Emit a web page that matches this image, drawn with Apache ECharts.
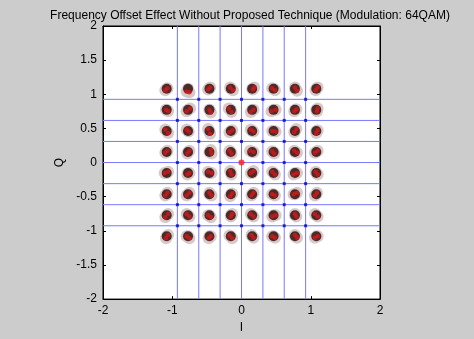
<!DOCTYPE html>
<html>
<head>
<meta charset="utf-8">
<script src="https://cdn.jsdelivr.net/npm/echarts@6/dist/echarts.min.js"></script>
<style>
html,body{margin:0;padding:0;background:#cccccc;}
#chart{width:474px;height:339px;}
</style>
</head>
<body>
<div id="chart"></div>
<script>
// ---- data ----
const titleText = 'Frequency Offset Effect Without Proposed Technique (Modulation: 64QAM)';
const iLevels = [-1.08, -0.772, -0.463, -0.154, 0.154, 0.463, 0.772, 1.08];
const qLevels = [1.08, 0.772, 0.463, 0.154, -0.154, -0.463, -0.772, -1.08];
const boundaries = [-0.926, -0.617, -0.309, 0, 0.309, 0.617, 0.926];
const centerPoint = [0, 0];
// red sample offsets per cluster (row by row, top to bottom; left to right): [dI1,dQ1,dI2,dQ2]
const redOffsets = [
  [-0.02,-0.02, 0.01,0.01],  [0.02,-0.05, -0.02,-0.04], [0.01,0.02, -0.02,-0.01], [0.03,-0.02, -0.01,0.02],
  [0.01,-0.01, 0.03,0.02],   [0.02,-0.02, -0.02,0.01],  [0.03,-0.03, 0.0,0.02],   [0.02,0.02, -0.01,-0.02],
  [-0.01,0.0, 0.02,-0.02],   [0.03,0.02, -0.02,-0.02],  [0.02,-0.04, 0.0,0.0],    [0.01,-0.03, -0.03,0.02],
  [-0.02,-0.03, 0.02,0.0],   [0.03,0.0, -0.03,-0.02],   [0.02,0.01, -0.01,-0.02], [0.01,-0.02, 0.02,0.02],
  [-0.02,0.02, 0.02,-0.03],  [0.01,-0.01, -0.02,0.02],  [-0.02,0.03, 0.01,-0.04], [0.02,0.01, -0.02,-0.02],
  [0.02,-0.01, -0.02,0.02],  [0.03,-0.01, -0.02,0.0],   [0.02,0.03, -0.01,-0.02], [0.02,0.01, 0.0,-0.03],
  [-0.02,-0.01, 0.01,0.02],  [0.02,0.02, -0.01,-0.02],  [0.02,0.03, 0.03,-0.02],  [0.01,-0.02, -0.02,0.02],
  [-0.03,0.02, 0.02,0.0],    [0.01,-0.02, -0.02,0.01],  [0.03,-0.01, -0.01,0.02], [0.02,0.02, -0.02,-0.01],
  [-0.03,0.0, 0.02,0.02],    [-0.01,-0.02, 0.02,0.0],   [0.03,0.0, -0.02,0.02],   [0.01,-0.02, -0.01,0.03],
  [-0.02,0.0, 0.02,0.03],    [0.02,-0.02, -0.02,0.02],  [0.03,0.0, -0.02,-0.02],  [0.02,-0.02, -0.01,0.02],
  [-0.02,-0.02, 0.01,0.02],  [0.02,0.02, -0.02,-0.02],  [0.0,0.02, 0.03,-0.02],   [0.02,0.01, -0.01,-0.03],
  [-0.01,-0.02, 0.02,0.02],  [0.02,-0.02, -0.02,0.0],   [0.03,0.02, -0.02,0.0],   [0.01,0.02, -0.02,-0.02],
  [-0.02,-0.03, 0.02,0.02],  [0.02,-0.02, -0.02,0.02],  [0.02,-0.03, -0.02,0.0],  [0.0,-0.02, 0.02,0.02],
  [0.02,-0.02, -0.02,0.02],  [0.03,0.0, -0.02,-0.02],   [0.02,-0.02, 0.0,0.02],   [-0.02,0.02, 0.02,-0.02],
  [-0.01,-0.03, 0.02,0.02],  [0.02,-0.03, -0.02,0.0],   [0.02,0.0, -0.01,-0.03],  [0.02,-0.03, -0.02,0.01],
  [0.02,-0.02, -0.01,0.02],  [0.02,-0.02, -0.02,0.0],   [0.03,-0.02, 0.0,0.02],   [0.02,0.0, -0.02,-0.02]
];

// ---- build ----
const centers = [], reds = [], halos = [];
qLevels.forEach((q, r) => {
  iLevels.forEach((i, c) => {
    const o = redOffsets[r * 8 + c];
    centers.push([i, q]);
    reds.push([i + o[0], q + o[1]]);
    reds.push([i + o[2], q + o[3]]);
    halos.push([i, q], [i + o[0], q + o[1]], [i + o[2], q + o[3]]);
  });
});
const gridDots = [];
boundaries.forEach(x => boundaries.forEach(y => {
  if (!(x === 0 && y === 0)) gridDots.push([x, y]);
}));
const lineSeries = [];
boundaries.forEach(b => {
  lineSeries.push({type:'line', data:[[b,-2],[b,2]], symbol:'none', silent:true,
    lineStyle:{color:'#7878ff', width:1}, z:2});
  lineSeries.push({type:'line', data:[[-2,b],[2,b]], symbol:'none', silent:true,
    lineStyle:{color:'#7878ff', width:1}, z:2});
});

const FONT = 'Liberation Sans';
const chart = echarts.init(document.getElementById('chart'), null, {renderer:'canvas'});
function mkAxis(position, interval, showLabel, extra) {
  return Object.assign({
    type:'value', min:-2, max:2, interval:interval, position:position,
    axisLine:{show:true, onZero:false, lineStyle:{color:'#000', width:1}},
    axisTick:{show:true, inside:true, length:3, lineStyle:{color:'#000'}},
    splitLine:{show:false},
    axisLabel:{show:showLabel, color:'#000', fontSize:12, fontFamily:FONT, margin:6}
  }, extra || {});
}
chart.setOption({
  animation:false,
  backgroundColor:'#cccccc',
  textStyle:{fontFamily:FONT},
  title:{text:titleText, left:245, top:5, textAlign:'center',
    textStyle:{fontFamily:FONT, fontSize:12, fontWeight:'normal', color:'#000'}},
  grid:{left:103, right:94, top:26, bottom:39, show:true, backgroundColor:'#ffffff', borderColor:'#000', borderWidth:1},
  xAxis:[
    mkAxis('bottom', 1, true, {name:'I', nameLocation:'middle', nameGap:20,
      nameTextStyle:{color:'#000', fontSize:12, fontFamily:FONT}}),
    mkAxis('top', 1, false)
  ],
  yAxis:[
    mkAxis('left', 0.5, true, {name:'Q', nameLocation:'middle', nameGap:22,
      nameTextStyle:{color:'#000', fontSize:12, fontFamily:FONT}}),
    mkAxis('right', 0.5, false)
  ],
  series: lineSeries.concat([
    {type:'scatter', data:gridDots, symbol:'rect', symbolSize:3, itemStyle:{color:'#0000cc'}, z:3, silent:true},
    {type:'scatter', data:halos, symbolSize:12, itemStyle:{color:'#d4c4c4', opacity:0.9}, z:4, silent:true},
    {type:'scatter', data:centers, symbolSize:10, itemStyle:{color:'#2a0202'}, z:5, silent:true},
    {type:'scatter', data:reds, symbolSize:4.5, itemStyle:{color:'#d41818'}, z:6, silent:true},
    {type:'scatter', data:[centerPoint], symbolSize:6, itemStyle:{color:'#ff1a1a'}, z:7, silent:true}
  ])
});
</script>
</body>
</html>
